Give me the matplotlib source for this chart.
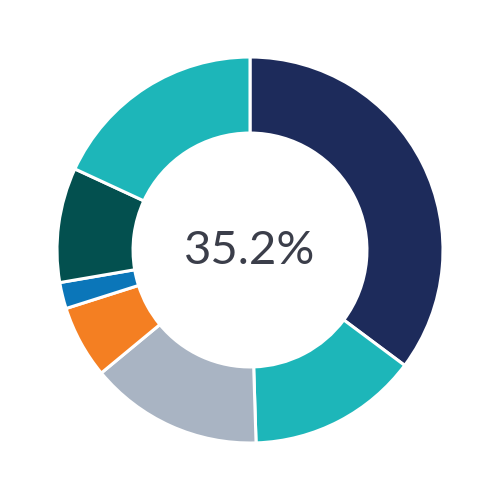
import matplotlib
matplotlib.use("Agg")
import matplotlib.pyplot as plt

labels = ["Navy", "Teal", "Gray", "Orange", "Blue", "Dark teal", "Teal 2"]
values = [35.2, 14.3, 14.5, 6.1, 2.2, 9.6, 18.1]
colors = ["#1d2b5b", "#1db6b9", "#a9b4c3", "#f47f22", "#0b76b9", "#03504f", "#1db6b9"]
center_text = "35.2%"

fig = plt.figure(figsize=(5, 5), dpi=100)
ax = fig.add_axes([0, 0, 1, 1])

r = 193 / 250
ax.pie(values, colors=colors, startangle=90, counterclock=False, radius=r,
       wedgeprops=dict(width=r * 0.394, edgecolor="white", linewidth=2.2))

ax.text(0, -0.005, center_text, ha="center", va="center", fontsize=34,
        family="Lato", color="#3b3e4a")

ax.set_xlim(-1, 1)
ax.set_ylim(-1, 1)
ax.set_aspect("equal")
ax.axis("off")

fig.savefig("out.png", dpi=100, facecolor="white")
